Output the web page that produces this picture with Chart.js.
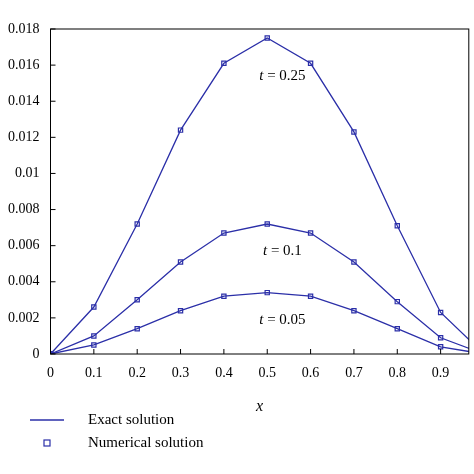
<!DOCTYPE html>
<html><head><meta charset="utf-8">
<script src="https://cdn.jsdelivr.net/npm/chart.js@4.4.0/dist/chart.umd.min.js"></script>
<style>html,body{margin:0;background:#fff}#wrap{width:474px;height:474px}</style>
</head><body><div id="wrap"><canvas id="c"></canvas></div>
<script>
const xs = [0, 0.1, 0.2, 0.3, 0.4, 0.5, 0.6, 0.7, 0.8, 0.9, 1.0];
const t025 = [0, 0.0026, 0.0072, 0.0124, 0.0161, 0.0175, 0.0161, 0.0123, 0.0071, 0.0023, 0];
const t010 = [0, 0.0010, 0.0030, 0.0051, 0.0067, 0.0072, 0.0067, 0.0051, 0.0029, 0.0009, 0];
const t005 = [0, 0.0005, 0.0014, 0.0024, 0.0032, 0.0034, 0.0032, 0.0024, 0.0014, 0.0004, 0];
const yTicks = [0, 0.002, 0.004, 0.006, 0.008, 0.01, 0.012, 0.014, 0.016, 0.018];
const labels = [
  {text: 't = 0.25', x: 0.535, y: 0.0154},
  {text: 't = 0.1', x: 0.535, y: 0.0057},
  {text: 't = 0.05', x: 0.535, y: 0.0019}
];
const legendItems = ['Exact solution', 'Numerical solution'];
const blue = '#2b2fa8';
const pts = arr => xs.map((x, i) => ({x: x, y: arr[i]}));
const lineDs = arr => ({label: 'Exact solution', data: pts(arr), showLine: true, borderColor: blue, borderWidth: 1.3, pointRadius: 0, fill: false});
const markDs = arr => ({label: 'Numerical solution', data: pts(arr), showLine: false, pointStyle: 'rect', pointRadius: 3, borderColor: blue, borderWidth: 1.2, backgroundColor: 'rgba(0,0,0,0)'});

const decor = {
  id: 'decor',
  afterDatasetsDraw(chart) {
    const {ctx, chartArea: a, scales: {x, y}} = chart;
    ctx.save();
    ctx.strokeStyle = '#000'; ctx.lineWidth = 1;
    ctx.strokeRect(a.left, a.top, a.right - a.left, a.bottom - a.top);
    ctx.beginPath();
    xs.forEach(v => { const px = x.getPixelForValue(v); if (px <= a.right) { ctx.moveTo(px, a.bottom); ctx.lineTo(px, a.bottom - 5); } });
    yTicks.forEach(v => { const py = y.getPixelForValue(v); ctx.moveTo(a.left, py); ctx.lineTo(a.left + 5, py); });
    ctx.stroke();
    ctx.fillStyle = '#000'; ctx.textBaseline = 'middle'; ctx.textAlign = 'left';
    labels.forEach(l => {
      const px = x.getPixelForValue(l.x), py = y.getPixelForValue(l.y);
      const rest = l.text.slice(1);
      ctx.font = 'italic 15px "Liberation Serif"';
      const tw = ctx.measureText('t').width;
      ctx.font = '15px "Liberation Serif"';
      const start = px - (tw + ctx.measureText(rest).width) / 2;
      ctx.font = 'italic 15px "Liberation Serif"';
      ctx.fillText('t', start, py);
      ctx.font = '15px "Liberation Serif"';
      ctx.fillText(rest, start + tw, py);
    });
    // legend
    ctx.font = '15px "Liberation Serif"';
    ctx.strokeStyle = blue; ctx.lineWidth = 1.4;
    ctx.beginPath(); ctx.moveTo(30, 420); ctx.lineTo(64, 420); ctx.stroke();
    ctx.lineWidth = 1.2;
    ctx.strokeRect(44, 440, 6, 6);
    ctx.fillStyle = '#000';
    ctx.fillText(legendItems[0], 88, 420);
    ctx.fillText(legendItems[1], 88, 443);
    ctx.restore();
  }
};

new Chart(document.getElementById('c'), {
  type: 'scatter',
  data: {datasets: [lineDs(t025), lineDs(t010), lineDs(t005), markDs(t025), markDs(t010), markDs(t005)]},
  options: {
    responsive: true, maintainAspectRatio: false, animation: false,
    layout: {padding: {top: 29, right: 0, left: 5, bottom: 58}},
    plugins: {tooltip: {enabled: false}, legend: {display: false}},
    scales: {
      x: {
        type: 'linear', min: 0, max: 0.965,
        grid: {display: false}, border: {display: false},
        afterBuildTicks: s => { s.ticks = xs.filter(v => v <= 0.965).map(v => ({value: v})); },
        ticks: {color: '#000', font: {family: 'Liberation Serif', size: 14}, callback: v => String(Math.round(v * 10) / 10)},
        title: {display: true, text: 'x', color: '#000', font: {family: 'Liberation Serif', size: 16, style: 'italic'}, padding: {top: 12, bottom: 0}}
      },
      y: {
        min: 0, max: 0.018,
        grid: {display: false}, border: {display: false},
        afterBuildTicks: s => { s.ticks = yTicks.map(v => ({value: v})); },
        ticks: {color: '#000', font: {family: 'Liberation Serif', size: 14}, callback: v => String(Math.round(v * 1000) / 1000)}
      }
    }
  },
  plugins: [decor]
});
</script></body></html>
